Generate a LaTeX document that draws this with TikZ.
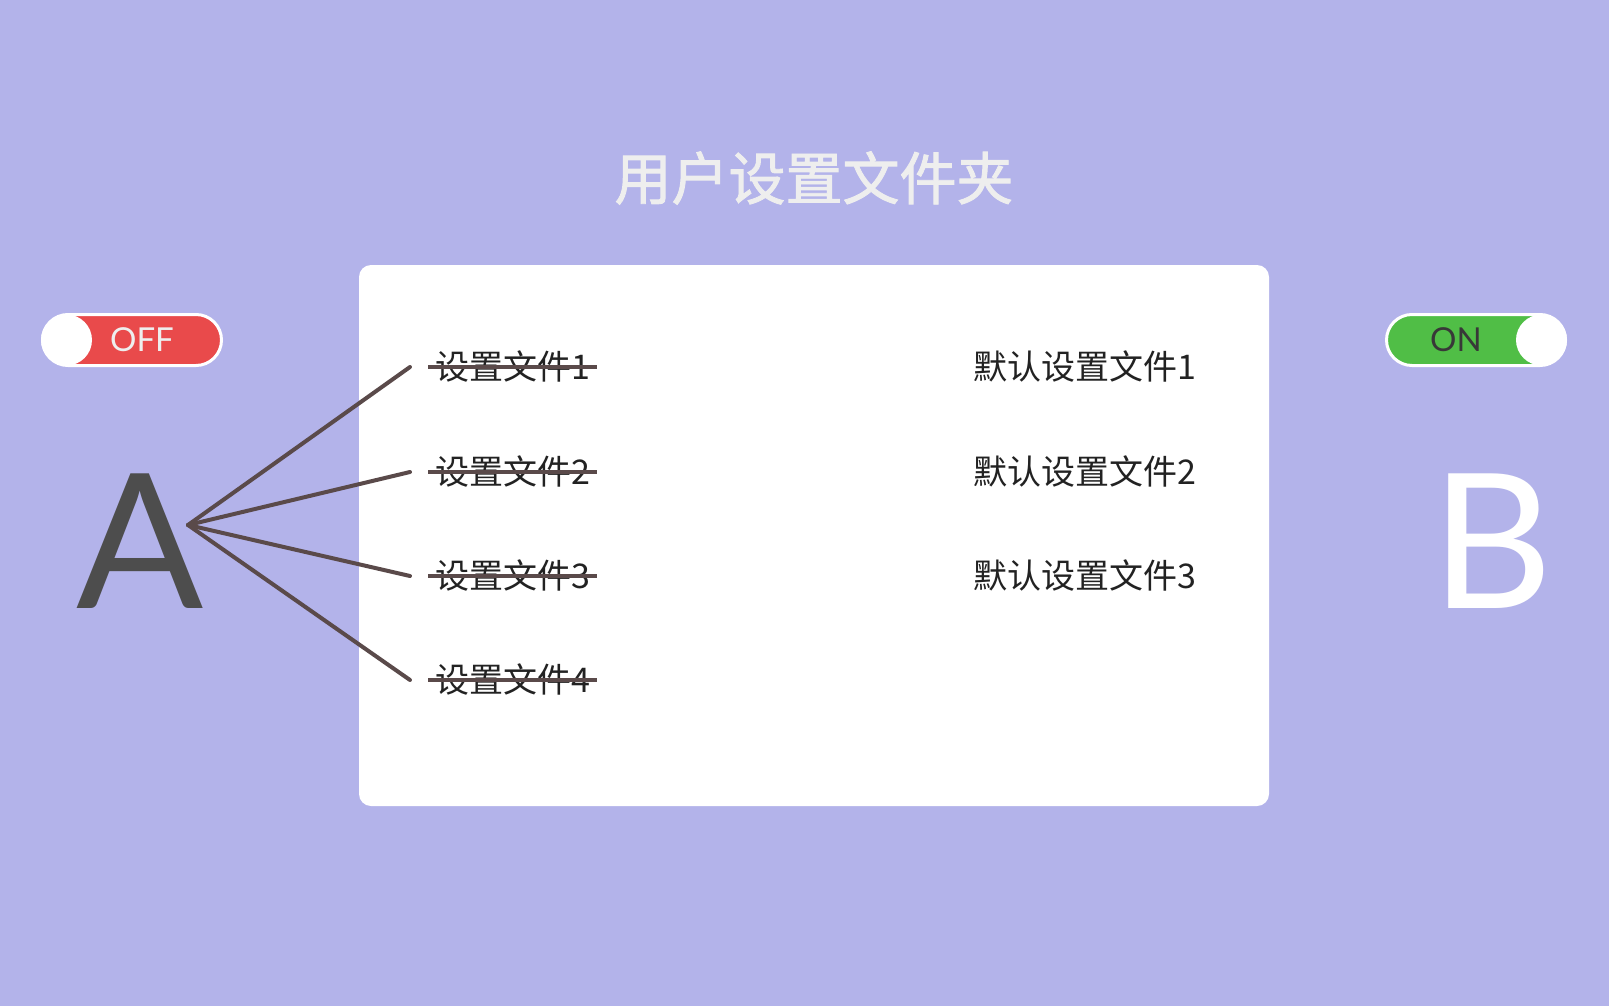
\documentclass[tikz,border=0pt]{standalone}
\usepackage{fontspec}
\setmainfont{Lato}
\newfontfamily\cjk{Noto Sans CJK SC}
\newfontfamily\cjkmed[FakeBold=1.6]{Noto Sans CJK SC}
\usetikzlibrary{shapes.misc}
\definecolor{bgc}{HTML}{B3B3EA}
\definecolor{offred}{HTML}{E94A4B}
\definecolor{ongreen}{HTML}{50BE46}
\definecolor{linec}{HTML}{5A4A4A}
\definecolor{titlec}{HTML}{EEEEEE}
\definecolor{itemc}{HTML}{222222}
\definecolor{ac}{HTML}{4D4D4D}
\tikzset{
  toggle/.style={rounded rectangle, draw=white, line width=3pt, minimum width=179pt, minimum height=51pt, inner sep=0pt},
  knob/.style={circle, fill=white, minimum size=51pt, inner sep=0pt},
  item/.style={inner sep=0pt, text=itemc, font=\cjk\fontsize{34}{40}\selectfont},
  strike/.style={draw=linec, line width=4pt},
  fan/.style={draw=linec, line width=4pt, line cap=round},
  big/.style={inner sep=0pt, anchor=base, font=\fontsize{188}{200}\selectfont},
}
\begin{document}
\begin{tikzpicture}[x=1pt,y=-1pt]
\fill[bgc] (0,0) rectangle (1609,1006);
\useasboundingbox (0,0) rectangle (1609,1006);
\node[inner sep=0pt, text=titlec, font=\cjkmed\fontsize{57}{64}\selectfont] (title) at (814,178) {用户设置文件夹};
\node[rectangle, rounded corners=12pt, fill=white, minimum width=910pt, minimum height=541pt, inner sep=0pt] (card) at (814,535.5) {};
% toggles
\node[toggle, fill=offred] (offsw) at (132,340) {};
\node[knob] (offknob) at (66.5,340) {};
\node[inner sep=0pt, text=titlec, font=\fontsize{33}{36}\selectfont] (offtxt) at (142,340) {OFF};
\node[toggle, fill=ongreen] (onsw) at (1476,340) {};
\node[knob] (onknob) at (1541.5,340) {};
\node[inner sep=0pt, text=itemc!90, font=\fontsize{33}{36}\selectfont] (ontxt) at (1456,340) {ON};
% A and B
\node[big, text=ac] (A) at (140,608) {A};
\node[big, text=white] (B) at (1492,608) {B};
% left items
\node[item, anchor=west] (s1) at (435,367) {设置文件1};
\node[item, anchor=west] (s2) at (435,472) {设置文件2};
\node[item, anchor=west] (s3) at (435,576) {设置文件3};
\node[item, anchor=west] (s4) at (435,680) {设置文件4};
\foreach \n in {s1,s2,s3,s4}{
  \draw[strike] ([xshift=-7pt,yshift=0pt]\n.west) -- ([xshift=162pt,yshift=0pt]\n.west);
}
% right items
\node[item, anchor=west] (d1) at (973,367) {默认设置文件1};
\node[item, anchor=west] (d2) at (973,472) {默认设置文件2};
\node[item, anchor=west] (d3) at (973,576) {默认设置文件3};
% fan lines
\coordinate (apex) at (188,525);
\foreach \n in {s1,s2,s3,s4}{
  \draw[fan] (apex) -- ([xshift=-25pt]\n.west);
}
\end{tikzpicture}
\end{document}
